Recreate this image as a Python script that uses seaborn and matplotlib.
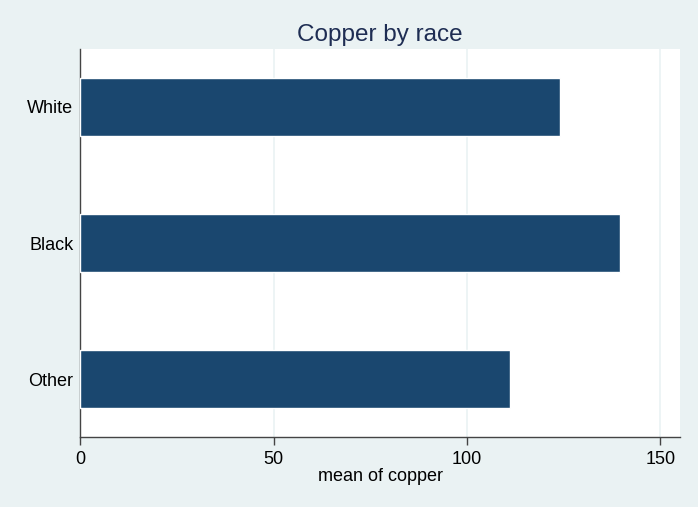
import matplotlib
matplotlib.use('Agg')
import matplotlib.pyplot as plt
import seaborn as sns
import pandas as pd

# mean copper by race
races = ['White', 'Black', 'Other']
mean_copper = [124.1, 139.5, 111.0]

bg_color = '#EAF2F3'
bar_color = '#1A476F'
text_color = '#1E2D53'

sns.set_style('white')
plt.rcParams['font.family'] = ['Liberation Sans', 'DejaVu Sans']

df = pd.DataFrame({'race': races, 'copper': mean_copper})

fig = plt.figure(figsize=(6.98, 5.07), dpi=100, facecolor=bg_color)
ax = fig.add_axes([0.1153, 0.138, 0.8589, 0.7654])
ax.set_facecolor('white')

sns.barplot(data=df, x='copper', y='race', orient='h', color=bar_color,
            width=0.43, saturation=1, ax=ax, zorder=3)

ax.set_xlim(0, 155.1)
ax.set_ylim(2.426, -0.426)
ax.set_xticks([0, 50, 100, 150])
ax.grid(axis='x', color=bg_color, linewidth=1.2, zorder=0)
ax.set_axisbelow(True)

for side in ['top', 'right']:
    ax.spines[side].set_visible(False)
for side in ['left', 'bottom']:
    ax.spines[side].set_color('#444444')
    ax.spines[side].set_linewidth(1.0)

ax.tick_params(axis='x', direction='out', length=6, width=1, color='#444444',
               labelsize=13, pad=4, bottom=True, labelcolor='black')
ax.tick_params(axis='y', length=0, labelsize=13, pad=5, labelcolor='black')

ax.set_xlabel('mean of copper', fontsize=13, labelpad=0, color='black')
ax.set_ylabel('')
ax.set_title('Copper by race', fontsize=17.5, color=text_color, pad=6)

fig.savefig('out.png', dpi=100, facecolor=bg_color)
